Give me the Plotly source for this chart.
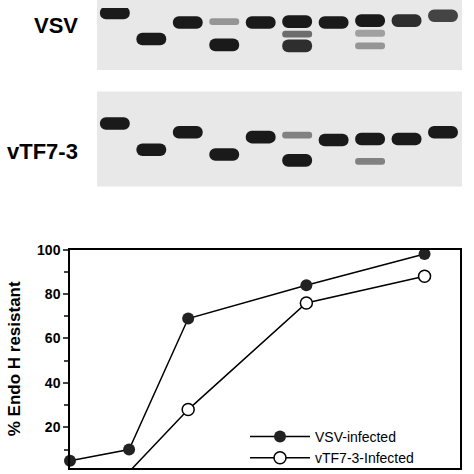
import plotly.graph_objects as go

# time course (min) and % Endo H resistant
minutes = [0, 10, 20, 40, 60]
vsv_pct = [5, 10, 69, 84, 98]
vtf_pct = [0, 0, 28, 76, 88]

# gel bands: lane, vertical position (px), darkness
vsv_lane = [1, 2, 3, 4, 4, 5, 6, 6, 6, 7, 8, 8, 8, 9, 10]
vsv_pos = [12, 39, 22, 21, 45, 22, 21, 34, 46, 22, 20, 33, 46, 20, 15]
vsv_dark = [1, 1, 1, 0.4, 1, 1, 1, 0.6, 0.9, 1, 1, 0.35, 0.4, 0.9, 0.8]
vtf_lane = [1, 2, 3, 4, 5, 6, 6, 7, 8, 8, 9, 10]
vtf_pos = [126, 153, 135, 158, 140, 138, 164, 143, 142, 165, 142, 135]
vtf_dark = [1, 1, 1, 1, 1, 0.5, 1, 1, 1, 0.5, 1, 1]

fig = go.Figure()

lanes = vsv_lane + vtf_lane
pos = vsv_pos + vtf_pos
dark = vsv_dark + vtf_dark
for ln, p, d in zip(lanes, pos, dark):
    h = 13 if d > 0.7 else 7
    fig.add_trace(go.Bar(x=[ln], y=[h], base=[p - h / 2], width=0.82,
                         marker=dict(color="#1a1a1a", opacity=d, line_width=0,
                                     cornerradius=6),
                         xaxis="x2", yaxis="y2", showlegend=False))

fig.add_trace(go.Scatter(x=minutes, y=vsv_pct, mode="lines+markers", name="VSV-infected",
                         line=dict(color="black", width=1.5),
                         marker=dict(symbol="circle", size=12, color="#222"),
                         cliponaxis=False))
fig.add_trace(go.Scatter(x=minutes, y=vtf_pct, mode="lines+markers", name="vTF7-3-Infected",
                         line=dict(color="black", width=1.5),
                         marker=dict(symbol="circle", size=12, color="white",
                                     line=dict(color="black", width=1.5)),
                         cliponaxis=False))

fig.update_layout(
    width=474, height=474, margin=dict(l=0, r=0, t=0, b=0),
    paper_bgcolor="white", plot_bgcolor="rgba(0,0,0,0)",
    font=dict(family="Liberation Sans", color="black"),
    barmode="overlay",
    xaxis=dict(domain=[70 / 474, 460 / 474], range=[0, 66], showline=True, mirror=True,
               linecolor="black", linewidth=1.5, showgrid=False, zeroline=False,
               showticklabels=False, ticks=""),
    yaxis=dict(domain=[0, 225 / 474], range=[1.7, 100], showline=True, mirror=True,
               linecolor="black", linewidth=1.5, showgrid=False, zeroline=False,
               ticks="outside", ticklen=5, tickwidth=1.5, tickvals=[20, 40, 60, 80, 100],
               tickfont=dict(size=14, family="Liberation Sans", weight="bold"),
               minor=dict(ticks="outside", ticklen=4, dtick=10, tickwidth=1.5),
               title=dict(text="% Endo H resistant", standoff=12,
                          font=dict(size=17, weight="bold"))),
    xaxis2=dict(domain=[0, 1], range=[-2.15, 10.85], visible=False),
    yaxis2=dict(domain=[0, 1], range=[481, 7], visible=False, anchor="x2"),
    legend=dict(x=245 / 474, y=(474 - 426) / 474, xanchor="left", yanchor="top",
                bgcolor="rgba(0,0,0,0)", font=dict(size=14), itemwidth=60,
                tracegroupgap=4),
    shapes=[
        dict(type="rect", xref="paper", yref="paper", x0=97 / 474, x1=462 / 474,
             y0=1 - 64 / 474, y1=1.02, fillcolor="#e8e8e8", line_width=0, layer="below"),
        dict(type="rect", xref="paper", yref="paper", x0=97 / 474, x1=462 / 474,
             y0=1 - 184 / 474, y1=1 - 86 / 474, fillcolor="#e8e8e8", line_width=0, layer="below"),
    ],
    annotations=[
        dict(text="<b>VSV</b>", x=80 / 474, y=1 - 18 / 474, xref="paper", yref="paper",
             xanchor="right", yanchor="middle", showarrow=False, font=dict(size=22)),
        dict(text="<b>vTF7-3</b>", x=80 / 474, y=1 - 148 / 474, xref="paper", yref="paper",
             xanchor="right", yanchor="middle", showarrow=False, font=dict(size=22)),
    ],
)

fig.write_html("out.html", config={"displayModeBar": False},
               post_script="document.body.style.margin='0';")
